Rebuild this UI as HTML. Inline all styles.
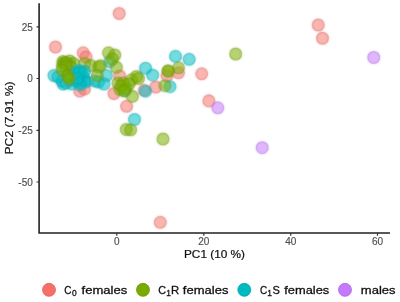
<!DOCTYPE html>
<html><head><meta charset="utf-8"><style>
html,body{margin:0;padding:0;background:#fff;}
body{width:400px;height:302px;overflow:hidden;position:relative;font-family:"Liberation Sans",sans-serif;}
svg{position:absolute;left:0;top:0;will-change:transform;}
</style></head><body>
<svg width="400" height="302" viewBox="0 0 400 302">
<defs><filter id="bl" x="0" y="0" width="400" height="302" filterUnits="userSpaceOnUse"><feGaussianBlur in="SourceGraphic" stdDeviation="1" result="b"/><feComposite in="SourceGraphic" in2="b" operator="arithmetic" k1="0" k2="0.45" k3="0.55" k4="0"/></filter></defs>
<g filter="url(#bl)"><circle cx="55.5" cy="47" r="5.9" fill="rgba(248,118,109,0.55)" stroke="rgba(215,100,95,0.6)" stroke-width="1.3"/>
<circle cx="119.2" cy="13.5" r="5.9" fill="rgba(248,118,109,0.55)" stroke="rgba(215,100,95,0.6)" stroke-width="1.3"/>
<circle cx="318.25" cy="25" r="5.9" fill="rgba(248,118,109,0.55)" stroke="rgba(215,100,95,0.6)" stroke-width="1.3"/>
<circle cx="322.5" cy="38.25" r="5.9" fill="rgba(248,118,109,0.55)" stroke="rgba(215,100,95,0.6)" stroke-width="1.3"/>
<circle cx="160.3" cy="222.3" r="5.9" fill="rgba(248,118,109,0.55)" stroke="rgba(215,100,95,0.6)" stroke-width="1.3"/>
<circle cx="201.7" cy="73.8" r="5.9" fill="rgba(248,118,109,0.55)" stroke="rgba(215,100,95,0.6)" stroke-width="1.3"/>
<circle cx="208.9" cy="100.9" r="5.9" fill="rgba(248,118,109,0.55)" stroke="rgba(215,100,95,0.6)" stroke-width="1.3"/>
<circle cx="217.8" cy="107.8" r="5.9" fill="rgba(199,124,255,0.55)" stroke="rgba(165,100,220,0.6)" stroke-width="1.3"/>
<circle cx="262.2" cy="147.7" r="5.9" fill="rgba(199,124,255,0.55)" stroke="rgba(165,100,220,0.6)" stroke-width="1.3"/>
<circle cx="373.75" cy="57.5" r="5.9" fill="rgba(199,124,255,0.55)" stroke="rgba(165,100,220,0.6)" stroke-width="1.3"/>
<circle cx="235.7" cy="54" r="5.9" fill="rgba(124,174,0,0.55)" stroke="rgba(105,150,0,0.6)" stroke-width="1.3"/>
<circle cx="83.2" cy="52.8" r="5.9" fill="rgba(248,118,109,0.55)" stroke="rgba(215,100,95,0.6)" stroke-width="1.3"/>
<circle cx="86" cy="57" r="5.9" fill="rgba(248,118,109,0.55)" stroke="rgba(215,100,95,0.6)" stroke-width="1.3"/>
<circle cx="79.8" cy="91" r="5.9" fill="rgba(248,118,109,0.55)" stroke="rgba(215,100,95,0.6)" stroke-width="1.3"/>
<circle cx="84.5" cy="89" r="5.9" fill="rgba(248,118,109,0.55)" stroke="rgba(215,100,95,0.6)" stroke-width="1.3"/>
<circle cx="114" cy="93.5" r="5.9" fill="rgba(248,118,109,0.55)" stroke="rgba(215,100,95,0.6)" stroke-width="1.3"/>
<circle cx="126.6" cy="106.3" r="5.9" fill="rgba(248,118,109,0.55)" stroke="rgba(215,100,95,0.6)" stroke-width="1.3"/>
<circle cx="119.7" cy="76" r="5.9" fill="rgba(248,118,109,0.55)" stroke="rgba(215,100,95,0.6)" stroke-width="1.3"/>
<circle cx="155.8" cy="87" r="5.9" fill="rgba(248,118,109,0.55)" stroke="rgba(215,100,95,0.6)" stroke-width="1.3"/>
<circle cx="167" cy="75.8" r="5.9" fill="rgba(248,118,109,0.55)" stroke="rgba(215,100,95,0.6)" stroke-width="1.3"/>
<circle cx="178.5" cy="72.8" r="5.9" fill="rgba(248,118,109,0.55)" stroke="rgba(215,100,95,0.6)" stroke-width="1.3"/>
<circle cx="63" cy="61.5" r="5.9" fill="rgba(124,174,0,0.55)" stroke="rgba(105,150,0,0.6)" stroke-width="1.3"/>
<circle cx="64" cy="63" r="5.9" fill="rgba(124,174,0,0.55)" stroke="rgba(105,150,0,0.6)" stroke-width="1.3"/>
<circle cx="68" cy="64" r="5.9" fill="rgba(124,174,0,0.55)" stroke="rgba(105,150,0,0.6)" stroke-width="1.3"/>
<circle cx="69.7" cy="61" r="5.9" fill="rgba(124,174,0,0.55)" stroke="rgba(105,150,0,0.6)" stroke-width="1.3"/>
<circle cx="62.5" cy="65.5" r="5.9" fill="rgba(124,174,0,0.55)" stroke="rgba(105,150,0,0.6)" stroke-width="1.3"/>
<circle cx="73.5" cy="63.5" r="5.9" fill="rgba(124,174,0,0.55)" stroke="rgba(105,150,0,0.6)" stroke-width="1.3"/>
<circle cx="66" cy="62.5" r="5.9" fill="rgba(124,174,0,0.55)" stroke="rgba(105,150,0,0.6)" stroke-width="1.3"/>
<circle cx="84.7" cy="63.5" r="5.9" fill="rgba(124,174,0,0.55)" stroke="rgba(105,150,0,0.6)" stroke-width="1.3"/>
<circle cx="90.7" cy="65.5" r="5.9" fill="rgba(124,174,0,0.55)" stroke="rgba(105,150,0,0.6)" stroke-width="1.3"/>
<circle cx="98.7" cy="67" r="5.9" fill="rgba(124,174,0,0.55)" stroke="rgba(105,150,0,0.6)" stroke-width="1.3"/>
<circle cx="71" cy="67" r="5.9" fill="rgba(124,174,0,0.55)" stroke="rgba(105,150,0,0.6)" stroke-width="1.3"/>
<circle cx="54" cy="75.5" r="5.9" fill="rgba(0,191,196,0.55)" stroke="rgba(0,165,175,0.6)" stroke-width="1.3"/>
<circle cx="63.2" cy="84" r="5.9" fill="rgba(0,191,196,0.55)" stroke="rgba(0,165,175,0.6)" stroke-width="1.3"/>
<circle cx="81.4" cy="83.2" r="5.9" fill="rgba(0,191,196,0.55)" stroke="rgba(0,165,175,0.6)" stroke-width="1.3"/>
<circle cx="74" cy="74" r="5.9" fill="rgba(0,191,196,0.55)" stroke="rgba(0,165,175,0.6)" stroke-width="1.3"/>
<circle cx="78" cy="73.5" r="5.9" fill="rgba(0,191,196,0.55)" stroke="rgba(0,165,175,0.6)" stroke-width="1.3"/>
<circle cx="83" cy="76" r="5.9" fill="rgba(0,191,196,0.55)" stroke="rgba(0,165,175,0.6)" stroke-width="1.3"/>
<circle cx="70" cy="80" r="5.9" fill="rgba(0,191,196,0.55)" stroke="rgba(0,165,175,0.6)" stroke-width="1.3"/>
<circle cx="76" cy="79" r="5.9" fill="rgba(0,191,196,0.55)" stroke="rgba(0,165,175,0.6)" stroke-width="1.3"/>
<circle cx="62" cy="81" r="5.9" fill="rgba(0,191,196,0.55)" stroke="rgba(0,165,175,0.6)" stroke-width="1.3"/>
<circle cx="58" cy="77" r="5.9" fill="rgba(0,191,196,0.55)" stroke="rgba(0,165,175,0.6)" stroke-width="1.3"/>
<circle cx="80" cy="76" r="5.9" fill="rgba(0,191,196,0.55)" stroke="rgba(0,165,175,0.6)" stroke-width="1.3"/>
<circle cx="85" cy="80.4" r="5.9" fill="rgba(0,191,196,0.55)" stroke="rgba(0,165,175,0.6)" stroke-width="1.3"/>
<circle cx="86" cy="82" r="5.9" fill="rgba(0,191,196,0.55)" stroke="rgba(0,165,175,0.6)" stroke-width="1.3"/>
<circle cx="76" cy="81" r="5.9" fill="rgba(0,191,196,0.55)" stroke="rgba(0,165,175,0.6)" stroke-width="1.3"/>
<circle cx="76" cy="72" r="5.9" fill="rgba(0,191,196,0.55)" stroke="rgba(0,165,175,0.6)" stroke-width="1.3"/>
<circle cx="81" cy="72.5" r="5.9" fill="rgba(0,191,196,0.55)" stroke="rgba(0,165,175,0.6)" stroke-width="1.3"/>
<circle cx="79.5" cy="70.5" r="5.9" fill="rgba(0,191,196,0.55)" stroke="rgba(0,165,175,0.6)" stroke-width="1.3"/>
<circle cx="84.5" cy="71.5" r="5.9" fill="rgba(0,191,196,0.55)" stroke="rgba(0,165,175,0.6)" stroke-width="1.3"/>
<circle cx="72" cy="84" r="5.9" fill="rgba(0,191,196,0.55)" stroke="rgba(0,165,175,0.6)" stroke-width="1.3"/>
<circle cx="80" cy="85" r="5.9" fill="rgba(0,191,196,0.55)" stroke="rgba(0,165,175,0.6)" stroke-width="1.3"/>
<circle cx="66" cy="83" r="5.9" fill="rgba(0,191,196,0.55)" stroke="rgba(0,165,175,0.6)" stroke-width="1.3"/>
<circle cx="78" cy="78" r="5.9" fill="rgba(0,191,196,0.55)" stroke="rgba(0,165,175,0.6)" stroke-width="1.3"/>
<circle cx="66" cy="66.5" r="5.9" fill="rgba(124,174,0,0.55)" stroke="rgba(105,150,0,0.6)" stroke-width="1.3"/>
<circle cx="62" cy="70" r="5.9" fill="rgba(124,174,0,0.55)" stroke="rgba(105,150,0,0.6)" stroke-width="1.3"/>
<circle cx="68" cy="76.5" r="5.9" fill="rgba(124,174,0,0.55)" stroke="rgba(105,150,0,0.6)" stroke-width="1.3"/>
<circle cx="67.5" cy="75.5" r="5.9" fill="rgba(124,174,0,0.55)" stroke="rgba(105,150,0,0.6)" stroke-width="1.3"/>
<circle cx="69" cy="79" r="5.9" fill="rgba(124,174,0,0.55)" stroke="rgba(105,150,0,0.6)" stroke-width="1.3"/>
<circle cx="94.9" cy="81" r="5.9" fill="rgba(0,191,196,0.55)" stroke="rgba(0,165,175,0.6)" stroke-width="1.3"/>
<circle cx="98.5" cy="82" r="5.9" fill="rgba(0,191,196,0.55)" stroke="rgba(0,165,175,0.6)" stroke-width="1.3"/>
<circle cx="106.5" cy="75.6" r="5.9" fill="rgba(0,191,196,0.55)" stroke="rgba(0,165,175,0.6)" stroke-width="1.3"/>
<circle cx="104" cy="84" r="5.9" fill="rgba(0,191,196,0.55)" stroke="rgba(0,165,175,0.6)" stroke-width="1.3"/>
<circle cx="109.8" cy="61.6" r="5.9" fill="rgba(0,191,196,0.55)" stroke="rgba(0,165,175,0.6)" stroke-width="1.3"/>
<circle cx="125" cy="90.6" r="5.9" fill="rgba(0,191,196,0.55)" stroke="rgba(0,165,175,0.6)" stroke-width="1.3"/>
<circle cx="100.5" cy="65.7" r="5.9" fill="rgba(124,174,0,0.55)" stroke="rgba(105,150,0,0.6)" stroke-width="1.3"/>
<circle cx="108.5" cy="52.8" r="5.9" fill="rgba(124,174,0,0.55)" stroke="rgba(105,150,0,0.6)" stroke-width="1.3"/>
<circle cx="114.8" cy="55" r="5.9" fill="rgba(124,174,0,0.55)" stroke="rgba(105,150,0,0.6)" stroke-width="1.3"/>
<circle cx="112.3" cy="59" r="5.9" fill="rgba(124,174,0,0.55)" stroke="rgba(105,150,0,0.6)" stroke-width="1.3"/>
<circle cx="116.4" cy="67.4" r="5.9" fill="rgba(124,174,0,0.55)" stroke="rgba(105,150,0,0.6)" stroke-width="1.3"/>
<circle cx="97.4" cy="75.6" r="5.9" fill="rgba(124,174,0,0.55)" stroke="rgba(105,150,0,0.6)" stroke-width="1.3"/>
<circle cx="118" cy="83" r="5.9" fill="rgba(124,174,0,0.55)" stroke="rgba(105,150,0,0.6)" stroke-width="1.3"/>
<circle cx="120" cy="89.5" r="5.9" fill="rgba(124,174,0,0.55)" stroke="rgba(105,150,0,0.6)" stroke-width="1.3"/>
<circle cx="136.5" cy="76.5" r="5.9" fill="rgba(124,174,0,0.55)" stroke="rgba(105,150,0,0.6)" stroke-width="1.3"/>
<circle cx="131.6" cy="79.8" r="5.9" fill="rgba(124,174,0,0.55)" stroke="rgba(105,150,0,0.6)" stroke-width="1.3"/>
<circle cx="123.3" cy="83.1" r="5.9" fill="rgba(124,174,0,0.55)" stroke="rgba(105,150,0,0.6)" stroke-width="1.3"/>
<circle cx="132.4" cy="96.4" r="5.9" fill="rgba(124,174,0,0.55)" stroke="rgba(105,150,0,0.6)" stroke-width="1.3"/>
<circle cx="126" cy="88.5" r="5.9" fill="rgba(124,174,0,0.55)" stroke="rgba(105,150,0,0.6)" stroke-width="1.3"/>
<circle cx="138.5" cy="78.5" r="5.9" fill="rgba(124,174,0,0.55)" stroke="rgba(105,150,0,0.6)" stroke-width="1.3"/>
<circle cx="121" cy="86" r="5.9" fill="rgba(124,174,0,0.55)" stroke="rgba(105,150,0,0.6)" stroke-width="1.3"/>
<circle cx="129" cy="84" r="5.9" fill="rgba(124,174,0,0.55)" stroke="rgba(105,150,0,0.6)" stroke-width="1.3"/>
<circle cx="124" cy="91" r="5.9" fill="rgba(124,174,0,0.55)" stroke="rgba(105,150,0,0.6)" stroke-width="1.3"/>
<circle cx="145.6" cy="68.2" r="5.9" fill="rgba(0,191,196,0.55)" stroke="rgba(0,165,175,0.6)" stroke-width="1.3"/>
<circle cx="152.7" cy="75.2" r="5.9" fill="rgba(0,191,196,0.55)" stroke="rgba(0,165,175,0.6)" stroke-width="1.3"/>
<circle cx="144.3" cy="90.3" r="5.9" fill="rgba(248,118,109,0.55)" stroke="rgba(215,100,95,0.6)" stroke-width="1.3"/>
<circle cx="145.6" cy="91.2" r="5.9" fill="rgba(0,191,196,0.55)" stroke="rgba(0,165,175,0.6)" stroke-width="1.3"/>
<circle cx="170" cy="86.7" r="5.9" fill="rgba(0,191,196,0.55)" stroke="rgba(0,165,175,0.6)" stroke-width="1.3"/>
<circle cx="175.5" cy="56.3" r="5.9" fill="rgba(0,191,196,0.55)" stroke="rgba(0,165,175,0.6)" stroke-width="1.3"/>
<circle cx="189.2" cy="59.3" r="5.9" fill="rgba(0,191,196,0.55)" stroke="rgba(0,165,175,0.6)" stroke-width="1.3"/>
<circle cx="134.5" cy="119.5" r="5.9" fill="rgba(0,191,196,0.55)" stroke="rgba(0,165,175,0.6)" stroke-width="1.3"/>
<circle cx="167.9" cy="70.8" r="5.9" fill="rgba(124,174,0,0.55)" stroke="rgba(105,150,0,0.6)" stroke-width="1.3"/>
<circle cx="168.3" cy="71.2" r="5.9" fill="rgba(124,174,0,0.55)" stroke="rgba(105,150,0,0.6)" stroke-width="1.3"/>
<circle cx="178.5" cy="67.8" r="5.9" fill="rgba(124,174,0,0.55)" stroke="rgba(105,150,0,0.6)" stroke-width="1.3"/>
<circle cx="165" cy="85.7" r="5.9" fill="rgba(124,174,0,0.55)" stroke="rgba(105,150,0,0.6)" stroke-width="1.3"/>
<circle cx="126.3" cy="129.5" r="5.9" fill="rgba(124,174,0,0.55)" stroke="rgba(105,150,0,0.6)" stroke-width="1.3"/>
<circle cx="130.7" cy="129.8" r="5.9" fill="rgba(124,174,0,0.55)" stroke="rgba(105,150,0,0.6)" stroke-width="1.3"/>
<circle cx="163" cy="139" r="5.9" fill="rgba(124,174,0,0.55)" stroke="rgba(105,150,0,0.6)" stroke-width="1.3"/></g>
<g stroke="#222" stroke-width="1.6" fill="none">
<path d="M39.1 3.3 V233 H390"/>
</g>
<g stroke="#333" stroke-width="1.2">
<path d="M36.5 26.8 H39 M36.5 78.5 H39 M36.5 130.3 H39 M36.5 182 H39"/>
<path d="M116.8 233 V235.8 M203.8 233 V235.8 M290.7 233 V235.8 M377.5 233 V235.8"/>
</g>
<g font-family="Liberation Sans" font-size="10" fill="#4d4d4d" stroke="#4d4d4d" stroke-width="0.15" text-anchor="end">
<text x="32.8" y="30.6">25</text>
<text x="32.8" y="82.3">0</text>
<text x="32.8" y="134.1">-25</text>
<text x="32.8" y="185.8">-50</text>
</g>
<g font-family="Liberation Sans" font-size="10" fill="#4d4d4d" stroke="#4d4d4d" stroke-width="0.15" text-anchor="middle">
<text x="116.8" y="245.3">0</text>
<text x="203.8" y="245.3">20</text>
<text x="290.7" y="245.3">40</text>
<text x="377.5" y="245.3">60</text>
</g>
<text x="184" y="257.9" font-family="Liberation Sans" font-size="10.4" fill="#111" stroke="#111" stroke-width="0.2" textLength="61" lengthAdjust="spacingAndGlyphs">PC1 (10 %)</text>
<text transform="translate(13,154.5) rotate(-90)" font-family="Liberation Sans" font-size="10.4" fill="#111" stroke="#111" stroke-width="0.2" textLength="73" lengthAdjust="spacingAndGlyphs">PC2 (7.91 %)</text>
<g>
<circle cx="49" cy="289.8" r="6.5" fill="rgb(246,112,104)" stroke="rgb(225,95,90)" stroke-width="0.8"/>
<circle cx="143" cy="289.8" r="6.5" fill="rgb(120,170,0)" stroke="rgb(105,150,0)" stroke-width="0.8"/>
<circle cx="244.3" cy="289.8" r="6.5" fill="rgb(0,186,192)" stroke="rgb(0,165,170)" stroke-width="0.8"/>
<circle cx="345" cy="289.8" r="6.5" fill="rgb(196,122,252)" stroke="rgb(170,100,225)" stroke-width="0.8"/>
</g>
<g font-family="Liberation Sans" font-size="11.3" fill="#111" stroke="#111" stroke-width="0.3">
<text y="293.6"><tspan x="64.3" textLength="7.2" lengthAdjust="spacingAndGlyphs">C</tspan><tspan x="72" y="295.9" font-size="8.4">0</tspan><tspan x="81.5" y="293.6" textLength="45.8" lengthAdjust="spacingAndGlyphs">females</tspan></text>
<text y="293.6"><tspan x="158.2" textLength="7.8" lengthAdjust="spacingAndGlyphs">C</tspan><tspan x="166.2" y="295.9" font-size="8.4">1</tspan><tspan x="171.1" y="293.6" textLength="8.2" lengthAdjust="spacingAndGlyphs">R</tspan><tspan x="182.8" y="293.6" textLength="45.6" lengthAdjust="spacingAndGlyphs">females</tspan></text>
<text y="293.6"><tspan x="259.9" textLength="7.2" lengthAdjust="spacingAndGlyphs">C</tspan><tspan x="267.2" y="295.9" font-size="8.4">1</tspan><tspan x="272.4" y="293.6" textLength="7.4" lengthAdjust="spacingAndGlyphs">S</tspan><tspan x="284.3" y="293.6" textLength="45" lengthAdjust="spacingAndGlyphs">females</tspan></text>
<text x="360.8" y="293.6" textLength="34.8" lengthAdjust="spacingAndGlyphs">males</text>
</g>
</svg>
</body></html>
